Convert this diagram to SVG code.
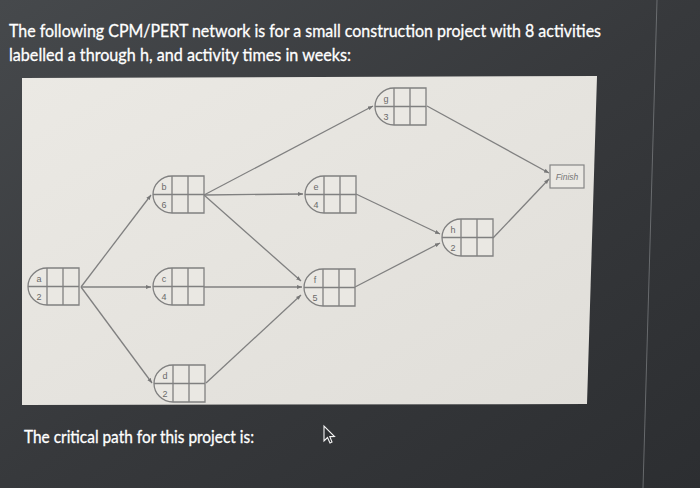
<svg xmlns="http://www.w3.org/2000/svg" xmlns:xlink="http://www.w3.org/1999/xlink" width="700" height="488" viewBox="0 0 700 488">
<defs>
<linearGradient id="bg" x1="0" y1="0" x2="1" y2="1">
<stop offset="0" stop-color="#46494c"/>
<stop offset="0.5" stop-color="#37393c"/>
<stop offset="1" stop-color="#2c2e31"/>
</linearGradient>
<linearGradient id="panel" x1="0" y1="0" x2="1" y2="1">
<stop offset="0" stop-color="#ebe9e4"/>
<stop offset="1" stop-color="#e0ded9"/>
</linearGradient>
<marker id="arr" viewBox="0 0 10 10" refX="10" refY="5" markerWidth="5" markerHeight="5" orient="auto" markerUnits="userSpaceOnUse">
<path d="M0,1 L10,5 L0,9 z" fill="#777"/>
</marker>
<g id="shape">
<path d="M20,0 H52 V37 H20 A19 18.5 0 0 1 20,0 Z" fill="#eae8e3" stroke="#808080" stroke-width="1.3"/>
<path d="M1,18.5 H52 M20,0 V37 M36,0 V37" stroke="#808080" stroke-width="1.3" fill="none"/>
</g>
<style>
.t{font-family:Lato,"Open Sans","Liberation Sans",sans-serif;fill:#ffffff;stroke:#ffffff;stroke-width:0.3;}
.lbl{font-family:"Liberation Sans",Arial,sans-serif;font-size:9px;fill:#6a6a6a;text-anchor:middle;}
.c{stroke:#808080;stroke-width:1.3;fill:none;marker-end:url(#arr);}
</style>
</defs>
<rect width="700" height="488" fill="url(#bg)"/>
<path d="M657,0 L643,488" stroke="#8d9093" stroke-width="1" opacity="0.6"/>
<polygon points="22,78 597,76 587,404 22,405" fill="url(#panel)"/>
<text class="t" x="9" y="37" font-size="18" textLength="592" lengthAdjust="spacingAndGlyphs">The following CPM/PERT network is for a small construction project with 8 activities</text>
<text class="t" x="9" y="61" font-size="18" textLength="342" lengthAdjust="spacingAndGlyphs">labelled a through h, and activity times in weeks:</text>
<text class="t" x="24" y="443" font-size="17" textLength="230" lengthAdjust="spacingAndGlyphs">The critical path for this project is:</text>
<path d="M324,426 L324,441 L327.5,437.5 L330,443 L332,442 L329.8,436.6 L334.5,436.5 Z" fill="#2e3033" stroke="#f4f4f4" stroke-width="1.1"/>
<g id="connectors">
<path class="c" d="M81,287 L151,195"/>
<path class="c" d="M81,287 L151,287"/>
<path class="c" d="M81,287 L152,383"/>
<path class="c" d="M204,195 L373,106"/>
<path class="c" d="M204,195 L303,194"/>
<path class="c" d="M204,195 L301,281"/>
<path class="c" d="M204,287 L302,287"/>
<path class="c" d="M206,383 L301,295"/>
<path class="c" d="M356,194 L440,234"/>
<path class="c" d="M355,287 L440,243"/>
<path class="c" d="M427,106 L549,173"/>
<path class="c" d="M493,238 L549,179"/>
</g>
<g id="node-a" transform="translate(27,268)"><use xlink:href="#shape"/><text class="lbl" x="12" y="14">a</text><text class="lbl" x="12" y="32">2</text></g>
<g id="node-b" transform="translate(152,176)"><use xlink:href="#shape"/><text class="lbl" x="12" y="14">b</text><text class="lbl" x="12" y="32">6</text></g>
<g id="node-c" transform="translate(152,268)"><use xlink:href="#shape"/><text class="lbl" x="12" y="14">c</text><text class="lbl" x="12" y="32">4</text></g>
<g id="node-d" transform="translate(153,365)"><use xlink:href="#shape"/><text class="lbl" x="12" y="14">d</text><text class="lbl" x="12" y="32">2</text></g>
<g id="node-e" transform="translate(304,176)"><use xlink:href="#shape"/><text class="lbl" x="12" y="14">e</text><text class="lbl" x="12" y="32">4</text></g>
<g id="node-f" transform="translate(303,269)"><use xlink:href="#shape"/><text class="lbl" x="12" y="14">f</text><text class="lbl" x="12" y="32">5</text></g>
<g id="node-g" transform="translate(374,88)"><use xlink:href="#shape"/><text class="lbl" x="12" y="14">g</text><text class="lbl" x="12" y="32">3</text></g>
<g id="node-h" transform="translate(441,219)"><use xlink:href="#shape"/><text class="lbl" x="12" y="14">h</text><text class="lbl" x="12" y="32">2</text></g>
<g id="node-finish"><rect x="550" y="165" width="34" height="23" fill="#eae8e3" stroke="#858585" stroke-width="1.2"/><text x="567" y="180" font-family="Liberation Sans,Arial,sans-serif" font-size="8.5" font-style="italic" fill="#777" text-anchor="middle">Finish</text></g>
</svg>
